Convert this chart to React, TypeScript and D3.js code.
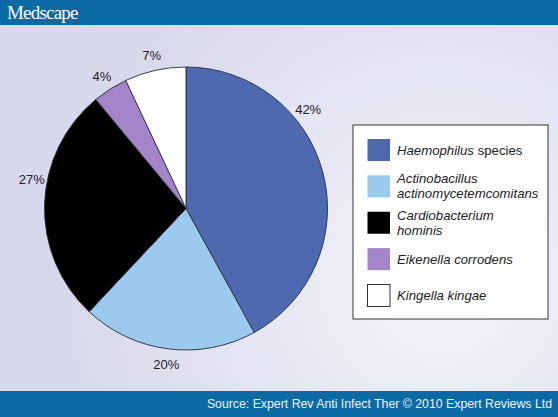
import { useEffect, useRef } from 'react'
import * as d3 from 'd3'

// Organism shares (%), clockwise from 12 o'clock
const organisms = [
  ['Haemophilus', ' species'],
  ['Actinobacillus', 'actinomycetemcomitans'],
  ['Cardiobacterium', 'hominis'],
  ['Eikenella corrodens'],
  ['Kingella kingae'],
]
const shares = [42, 20, 27, 4, 7]
const sliceColors = ['#4e69b0', '#9ccaee', '#000000', '#a585c9', '#ffffff']
const sourceNote = 'Source: Expert Rev Anti Infect Ther \u00a9 2010 Expert Reviews Ltd'

const W = 558
const H = 417

export default function App() {
  const svgRef = useRef<SVGSVGElement>(null)

  useEffect(() => {
    if (!svgRef.current) return
    const svg = d3.select(svgRef.current)
    svg.selectAll('*').remove()

    const defs = svg.append('defs')
    const grad = defs.append('radialGradient')
      .attr('id', 'bg')
      .attr('gradientUnits', 'userSpaceOnUse')
      .attr('cx', 440).attr('cy', 280).attr('r', 380)
    grad.append('stop').attr('offset', '0%').attr('stop-color', '#f3f4fa')
    grad.append('stop').attr('offset', '100%').attr('stop-color', '#d8d8ec')

    // panel + header/footer bars
    svg.append('rect').attr('width', W).attr('height', H).attr('fill', 'url(#bg)')
    svg.append('rect').attr('width', W).attr('height', 25).attr('fill', '#0b69a3')
    svg.append('rect').attr('y', 391).attr('width', W).attr('height', H - 391).attr('fill', '#0b69a3')

    svg.append('text')
      .attr('x', 7).attr('y', 19)
      .attr('font-family', '"Liberation Serif", "Times New Roman", serif')
      .attr('font-size', 19)
      .attr('letter-spacing', -0.8)
      .attr('fill', '#ffffff')
      .text('Medscape')

    svg.append('text')
      .attr('x', 552).attr('y', 407.5)
      .attr('text-anchor', 'end')
      .attr('font-family', '"Liberation Sans", Arial, sans-serif')
      .attr('font-size', 12.3)
      .attr('fill', '#eef3f8')
      .text(sourceNote)

    // pie
    const cx = 186, cy = 208.5, radius = 141.5
    const pie = d3.pie<number>().sort(null).value(d => d)
    const arcs = pie(shares)
    const arc = d3.arc<d3.PieArcDatum<number>>().innerRadius(0).outerRadius(radius)

    const g = svg.append('g').attr('transform', `translate(${cx},${cy})`)
    g.selectAll('path')
      .data(arcs)
      .join('path')
      .attr('d', arc)
      .attr('fill', (_, i) => sliceColors[i])
      .attr('stroke', '#2a2a3a')
      .attr('stroke-width', 0.9)

    // labels sit just outside the rim, a couple nudged off the mid-angle (degrees)
    const labelR = 157
    const labelNudge = [-24.5, 0, 9, 0, 0]
    const labelAngle = (d: d3.PieArcDatum<number>, i: number) =>
      (d.startAngle + d.endAngle) / 2 + (labelNudge[i] * Math.PI) / 180
    g.selectAll('text.pct')
      .data(arcs)
      .join('text')
      .attr('class', 'pct')
      .attr('x', (d, i) => Math.sin(labelAngle(d, i)) * labelR)
      .attr('y', (d, i) => -Math.cos(labelAngle(d, i)) * labelR)
      .attr('dy', '0.35em')
      .attr('text-anchor', 'middle')
      .attr('font-family', '"Liberation Sans", Arial, sans-serif')
      .attr('font-size', 13)
      .attr('fill', '#222')
      .text(d => `${d.data}%`)

    // legend
    const lx = 353, ly = 125, lw = 195, lh = 194
    svg.append('rect')
      .attr('x', lx).attr('y', ly).attr('width', lw).attr('height', lh)
      .attr('fill', '#ffffff').attr('stroke', '#333').attr('stroke-width', 1)

    const rowY = d3.scalePoint<number>()
      .domain(d3.range(organisms.length))
      .range([150, 295.5])
    const items = svg.selectAll('g.item')
      .data(organisms)
      .join('g')
      .attr('class', 'item')
      .attr('transform', (_, i) => `translate(0,${rowY(i)})`)
    items.append('rect')
      .attr('x', 367.5).attr('y', -11).attr('width', 22.5).attr('height', 22)
      .attr('fill', (_, i) => sliceColors[i])
      .attr('stroke', (_, i) => (i === 4 ? '#333' : 'none'))
      .attr('stroke-width', 1)
    const txt = items.append('text')
      .attr('font-family', '"Liberation Sans", Arial, sans-serif')
      .attr('font-size', 13.2)
      .attr('fill', '#222')
    txt.each(function (d) {
      const t = d3.select(this)
      if (d[0] === 'Haemophilus') {
        t.attr('x', 397).attr('y', 4.5)
        t.append('tspan').attr('font-style', 'italic').text(d[0])
        t.append('tspan').text(d[1])
      } else if (d.length === 2) {
        t.append('tspan').attr('x', 397).attr('y', -3).attr('font-style', 'italic').text(d[0])
        t.append('tspan').attr('x', 397).attr('y', 12).attr('font-style', 'italic').text(d[1])
      } else {
        t.attr('x', 397).attr('y', 4.5).attr('font-style', 'italic').text(d[0])
      }
    })
  }, [])

  return (
    <svg
      ref={svgRef}
      width={W}
      height={H}
      style={{ position: 'absolute', left: 0, top: 0, display: 'block' }}
    />
  )
}
